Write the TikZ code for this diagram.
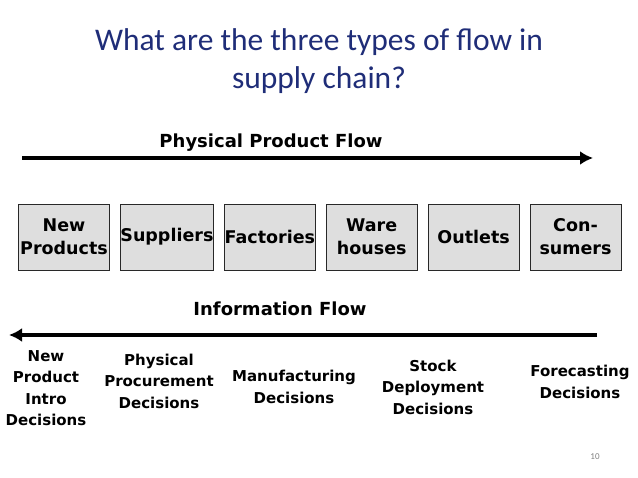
\documentclass[tikz,border=0pt]{standalone}
\usepackage{fontspec}
\setmainfont{DejaVu Sans}
\newfontfamily\titlefont{Carlito}
\usetikzlibrary{positioning,arrows.meta}
\definecolor{titleblue}{RGB}{31,45,120}
\definecolor{boxgray}{RGB}{222,222,222}
\definecolor{linegray}{RGB}{40,40,40}
\tikzset{
  stage/.style={draw=linegray,fill=boxgray,minimum width=91pt,minimum height=66pt,
    align=center,font=\fontsize{17.5}{23}\selectfont\bfseries,inner sep=0pt},
  decision/.style={align=center,font=\fontsize{15}{21.5}\selectfont\bfseries,inner sep=0pt},
  flowlabel/.style={font=\fontsize{18}{20}\selectfont\bfseries},
  flow/.style={line width=4.5pt,-{Latex[length=13pt,width=14pt]}}
}
\begin{document}
\begin{tikzpicture}[x=1pt,y=-1pt]
  \useasboundingbox (0,0) rectangle (638,478);
  % Title
  \node[text=titleblue,font=\titlefont\fontsize{31.5}{38}\selectfont,align=center] (title) at (319,61)
    {What are the three types of flow in\\supply chain?};

  % Physical flow
  \node[flowlabel] (physlbl) at (271,143) {Physical Product Flow};
  \coordinate (pstart) at (22,158);
  \coordinate (pend) at (593,158);
  \draw[flow] (pstart) -- (pend);

  % Stages
  \node[stage] (newprod) at (64,237) {New\\Products};
  \node[stage,right=10.5pt of newprod] (suppliers) {Suppliers};
  \node[stage,right=10.5pt of suppliers] (factories) {Factories};
  \node[stage,right=10.5pt of factories] (warehouses) {Ware\\houses};
  \node[stage,right=10.5pt of warehouses] (outlets) {Outlets};
  \node[stage,right=10.5pt of outlets] (consumers) {Con-\\sumers};

  % Information flow
  \node[flowlabel] (infolbl) at (280,309) {Information Flow};
  \coordinate (istart) at (597,335);
  \coordinate (iend) at (9,335);
  \draw[flow] (istart) -- (iend);

  % Decisions
  \node[decision] (intro) at (46,388) {New\\Product\\Intro\\Decisions};
  \node[decision] (procure) at (159,381) {Physical\\Procurement\\Decisions};
  \node[decision] (manuf) at (294,387) {Manufacturing\\Decisions};
  \node[decision] (stock) at (433,387) {Stock\\Deployment\\Decisions};
  \node[decision] (forecast) at (580,382) {Forecasting\\Decisions};

  \node[text=gray,font=\titlefont\fontsize{9}{10}\selectfont] (pagenum) at (595,457) {10};
\end{tikzpicture}
\end{document}
